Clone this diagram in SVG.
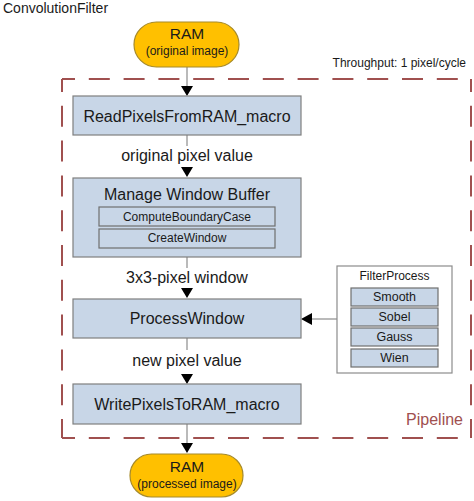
<svg xmlns="http://www.w3.org/2000/svg" width="474" height="501" viewBox="0 0 474 501">
<style>
text{font-family:"Liberation Sans",Arial,sans-serif;fill:#1a1a1a;text-anchor:middle}
.box{fill:#C8D6E7;stroke:#7F7F7F;stroke-width:1.2}
.sub{fill:#C8D6E7;stroke:#6F6F6F;stroke-width:1.2}
.pill{fill:#FFC000;stroke:#A68A2A;stroke-width:1.2}
.conn{stroke:#8C8C8C;stroke-width:1.2;fill:none}
.head{fill:#000}
.dash{stroke:#A0504F;stroke-width:2;fill:none;stroke-dasharray:21 13.8;stroke-dashoffset:8}
.t16{font-size:16px}
.t12{font-size:12px}
</style>
<rect width="474" height="501" fill="#fff"/>
<text x="3" y="13" style="font-size:14px;text-anchor:start">ConvolutionFilter</text>
<g id="pipeline">
<line class="dash" x1="62" y1="79" x2="471" y2="79"/>
<line class="dash" x1="62" y1="79" x2="62" y2="438"/>
<line class="dash" x1="62" y1="438" x2="471" y2="438"/>
<line class="dash" x1="471" y1="79" x2="471" y2="438"/>
<line class="dash" x1="471" y1="438" x2="471" y2="424" style="stroke-dashoffset:0"/>
<text x="463" y="425" class="t16" style="text-anchor:end;fill:#A0504F">Pipeline</text>
<text x="466" y="67" class="t12" style="text-anchor:end">Throughput: 1 pixel/cycle</text>
</g>
<g id="connectors">
<line class="conn" x1="187" y1="67" x2="187" y2="87"/>
<polygon class="head" points="181,86 193,86 187,96"/>
<line class="conn" x1="187" y1="135" x2="187" y2="146"/>
<text x="187" y="161" class="t16">original pixel value</text>
<polygon class="head" points="181,167 193,167 187,177"/>
<line class="conn" x1="187" y1="257" x2="187" y2="268"/>
<text x="187" y="283" class="t16">3x3-pixel window</text>
<polygon class="head" points="181,288 193,288 187,298"/>
<line class="conn" x1="187" y1="338" x2="187" y2="350"/>
<text x="187" y="366" class="t16">new pixel value</text>
<polygon class="head" points="181,374 193,374 187,384"/>
<line class="conn" x1="187" y1="424" x2="187" y2="444"/>
<polygon class="head" points="181,443 193,443 187,453"/>
<line class="conn" x1="337" y1="319" x2="311" y2="319"/>
<polygon class="head" points="312,313 312,325 301,319"/>
</g>
<g id="ram-in">
<rect class="pill" x="134" y="22" width="105" height="45" rx="22.5"/>
<text x="187" y="39" style="font-size:15.5px">RAM</text>
<text x="187" y="55" class="t12">(original image)</text>
</g>
<g id="read">
<rect class="box" x="73" y="96" width="228" height="39"/>
<text x="187" y="122" class="t16">ReadPixelsFromRAM_macro</text>
</g>
<g id="manage">
<rect class="box" x="73" y="178" width="228" height="79"/>
<text x="187" y="200" class="t16">Manage Window Buffer</text>
<rect class="sub" x="99" y="207" width="176" height="19"/>
<text x="187" y="221" class="t12">ComputeBoundaryCase</text>
<rect class="sub" x="99" y="229" width="176" height="19"/>
<text x="187" y="242" class="t12">CreateWindow</text>
</g>
<g id="process">
<rect class="box" x="73" y="299" width="228" height="39"/>
<text x="187" y="324" class="t16">ProcessWindow</text>
</g>
<g id="filter">
<rect x="337" y="266" width="115" height="107" fill="#fff" stroke="#8C8C8C" stroke-width="1.2"/>
<text x="394.5" y="280" class="t12">FilterProcess</text>
<rect class="sub" x="351" y="288" width="87" height="18"/>
<text x="394.5" y="301" style="font-size:12.5px">Smooth</text>
<rect class="sub" x="351" y="308" width="87" height="18"/>
<text x="394.5" y="321" style="font-size:12.5px">Sobel</text>
<rect class="sub" x="351" y="328" width="87" height="18"/>
<text x="394.5" y="341" style="font-size:12.5px">Gauss</text>
<rect class="sub" x="351" y="349" width="87" height="18"/>
<text x="394.5" y="362" style="font-size:12.5px">Wien</text>
</g>
<g id="write">
<rect class="box" x="73" y="384" width="228" height="40"/>
<text x="187" y="410" class="t16">WritePixelsToRAM_macro</text>
</g>
<g id="ram-out">
<rect class="pill" x="130" y="454" width="113" height="43" rx="21.5"/>
<text x="187" y="472" style="font-size:15.5px">RAM</text>
<text x="187" y="488" class="t12">(processed image)</text>
</g>
</svg>
